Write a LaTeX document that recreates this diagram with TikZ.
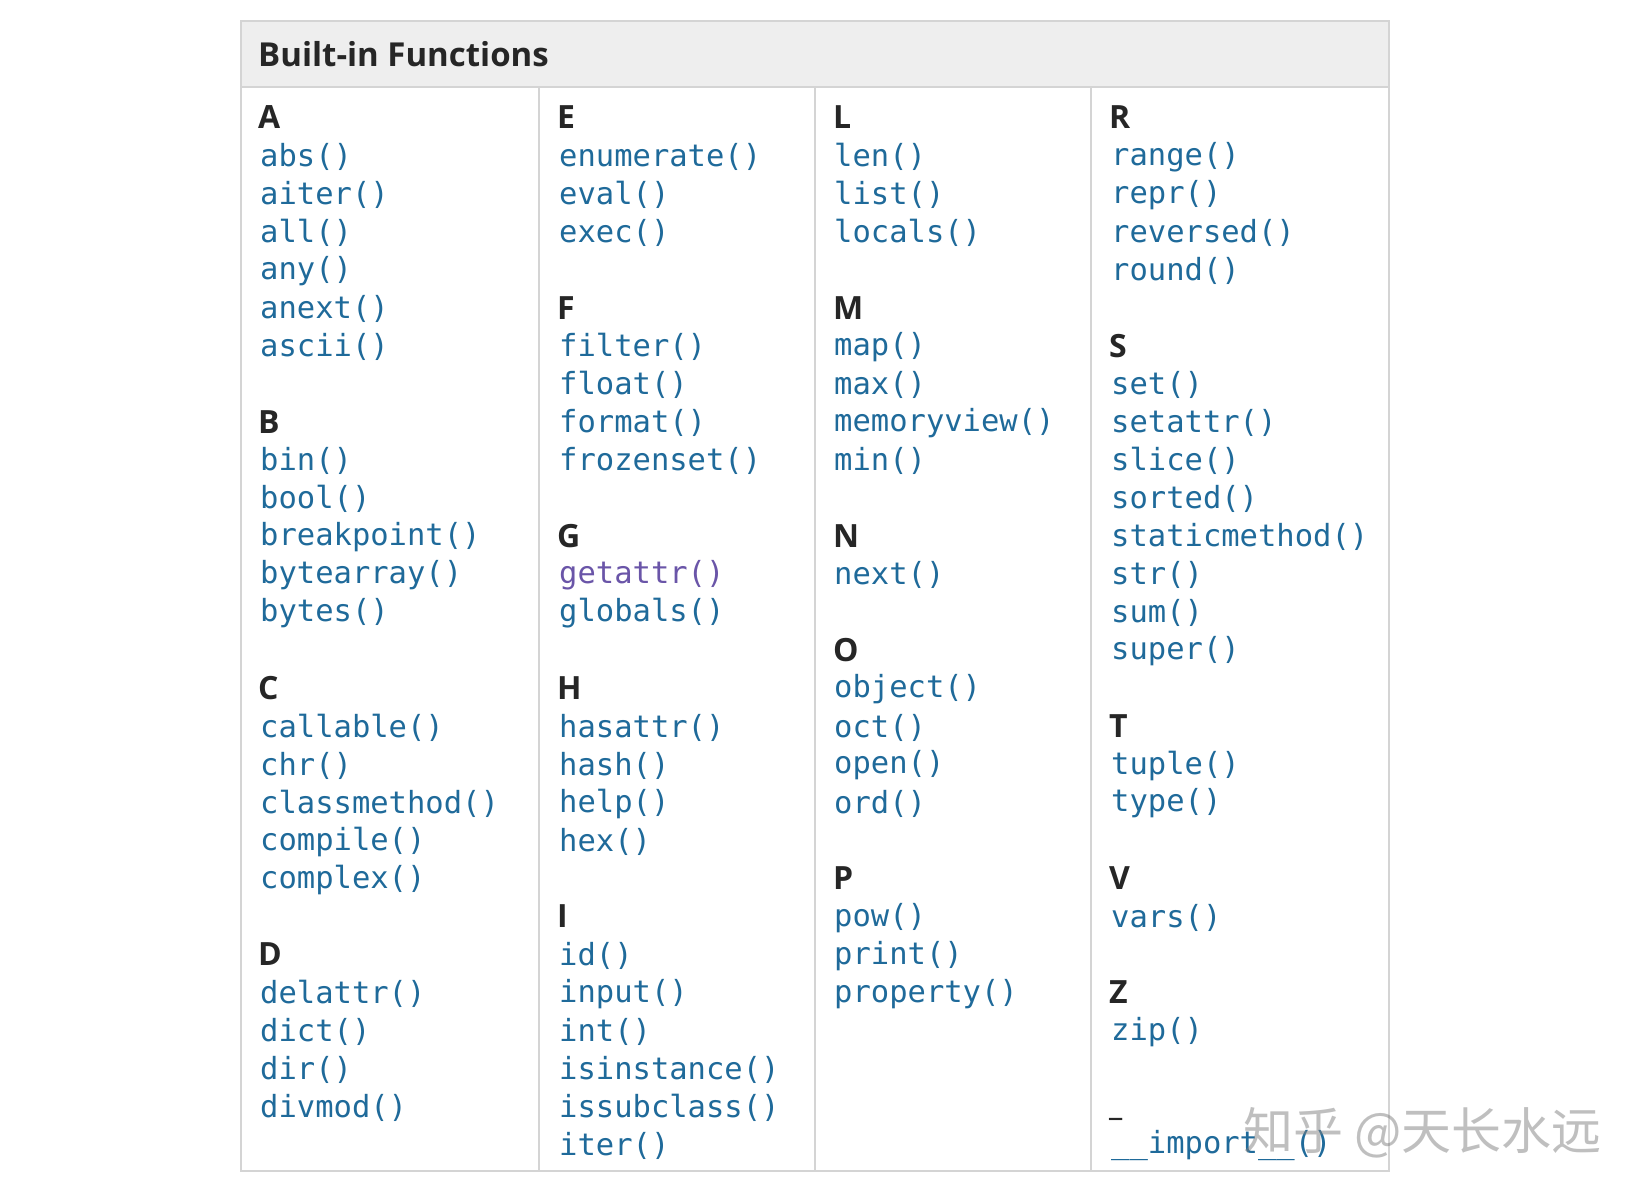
\documentclass[tikz,border=0pt]{standalone}
\usepackage{fontspec}
\setmainfont{Open Sans}
\newfontfamily\codefont{DejaVu Sans Mono}
\newfontfamily\cjkfont{Noto Sans CJK SC}
\definecolor{codeblue}{HTML}{1F6A9A}
\definecolor{visited}{HTML}{6A55A8}
\definecolor{rule}{HTML}{D4D4D4}
\definecolor{headbg}{HTML}{EEEEEE}
\begin{document}
\begin{tikzpicture}[x=1pt,y=-1pt,
  fn/.style={anchor=west,inner sep=0pt,font=\codefont\fontsize{30.5}{32}\selectfont,text=codeblue},
  letter/.style={anchor=west,inner sep=0pt,font=\bfseries\fontsize{32}{33}\selectfont,text=black!85}]
\useasboundingbox (0,0) rectangle (1638,1192);
\fill[headbg] (241,21) rectangle (1389,87);
\draw[rule,line width=2pt] (241,21) rectangle (1389,1171);
\draw[rule,line width=2pt] (241,87) -- (1389,87);
\foreach \x in {539,815,1091} \draw[rule,line width=2pt] (\x,87) -- (\x,1171);
\node[anchor=west,inner sep=0pt,font=\bfseries\fontsize{33}{34}\selectfont,text=black!85] (title) at (258,54) {Built-in Functions};
\def\rowy#1{117.5+#1*38.03}
% column A
\foreach \t/\r [count=\i] in {A/0,B/8,C/15,D/22} \node[letter] (la\i) at (258,{\rowy{\r}}) {\t};
\foreach \t/\r [count=\i] in {abs()/1,aiter()/2,all()/3,any()/4,anext()/5,ascii()/6,bin()/9,bool()/10,breakpoint()/11,bytearray()/12,bytes()/13,callable()/16,chr()/17,classmethod()/18,compile()/19,complex()/20,delattr()/23,dict()/24,dir()/25,divmod()/26}
  \node[fn] (fa\i) at (260,{\rowy{\r}+1.5}) {\t};
% column E
\foreach \t/\r [count=\i] in {E/0,F/5,G/11,H/15,I/21} \node[letter] (le\i) at (557,{\rowy{\r}}) {\t};
\foreach \t/\r [count=\i] in {enumerate()/1,eval()/2,exec()/3,filter()/6,float()/7,format()/8,frozenset()/9,globals()/13,hasattr()/16,hash()/17,help()/18,hex()/19,id()/22,input()/23,int()/24,isinstance()/25,issubclass()/26,iter()/27}
  \node[fn] (fe\i) at (559,{\rowy{\r}+1.5}) {\t};
\node[fn,text=visited] (getattr) at (559,{\rowy{12}+1.5}) {getattr()};
% column L
\foreach \t/\r [count=\i] in {L/0,M/5,N/11,O/14,P/20} \node[letter] (ll\i) at (833,{\rowy{\r}}) {\t};
\foreach \t/\r [count=\i] in {len()/1,list()/2,locals()/3,map()/6,max()/7,memoryview()/8,min()/9,next()/12,object()/15,oct()/16,open()/17,ord()/18,pow()/21,print()/22,property()/23}
  \node[fn] (fl\i) at (834,{\rowy{\r}+1.5}) {\t};
% column R
\foreach \t/\r [count=\i] in {R/0,S/6,T/16,V/20,Z/23} \node[letter] (lr\i) at (1109,{\rowy{\r}}) {\t};
\node[letter] (lu) at (1109,{\rowy{26.3}}) {\_};
\foreach \t/\r [count=\i] in {range()/1,repr()/2,reversed()/3,round()/4,set()/7,setattr()/8,slice()/9,sorted()/10,staticmethod()/11,str()/12,sum()/13,super()/14,tuple()/17,type()/18,vars()/21,zip()/24}
  \node[fn] (fr\i) at (1111,{\rowy{\r}+1.5}) {\t};
\node[fn] (imp) at (1111,{\rowy{27}+1.5}) {\_\_import\_\_()};
% watermark
\node[anchor=west,inner sep=0pt,font=\cjkfont\fontsize{50}{52}\selectfont,text=gray,opacity=0.5] (wm) at (1243,1133) {知乎 @天长水远};
\end{tikzpicture}
\end{document}
